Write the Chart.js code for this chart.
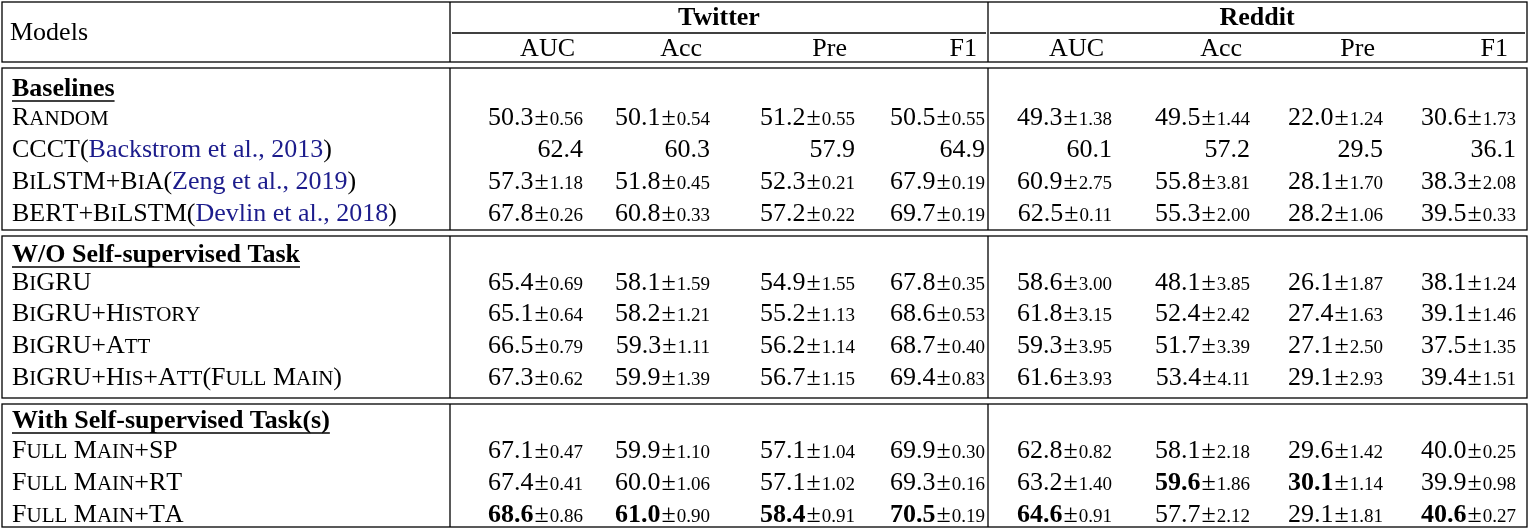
<!DOCTYPE html>
<html><head><meta charset="utf-8">
<script src="https://cdn.jsdelivr.net/npm/chart.js@4/dist/chart.umd.min.js"></script>
<style>html,body{margin:0;padding:0;background:#fff}canvas{display:block}</style>
</head><body>
<canvas id="c" width="1530" height="530"></canvas>
<script>
const groups = ["Twitter", "Reddit"];
const metrics = ["AUC", "Acc", "Pre", "F1"];
const sections = ["Baselines", "W/O Self-supervised Task", "With Self-supervised Task(s)"];
const modelNames = ["Random","CCCT","BiLSTM+BiA","BERT+BiLSTM","BiGRU","BiGRU+History","BiGRU+Att","BiGRU+His+Att(Full Main)","Full Main+SP","Full Main+RT","Full Main+TA"];
const modelCites = ["","Backstrom et al., 2013","Zeng et al., 2019","Devlin et al., 2018","","","","","","",""];
const means = [
 [50.3,50.1,51.2,50.5,49.3,49.5,22.0,30.6],
 [62.4,60.3,57.9,64.9,60.1,57.2,29.5,36.1],
 [57.3,51.8,52.3,67.9,60.9,55.8,28.1,38.3],
 [67.8,60.8,57.2,69.7,62.5,55.3,28.2,39.5],
 [65.4,58.1,54.9,67.8,58.6,48.1,26.1,38.1],
 [65.1,58.2,55.2,68.6,61.8,52.4,27.4,39.1],
 [66.5,59.3,56.2,68.7,59.3,51.7,27.1,37.5],
 [67.3,59.9,56.7,69.4,61.6,53.4,29.1,39.4],
 [67.1,59.9,57.1,69.9,62.8,58.1,29.6,40.0],
 [67.4,60.0,57.1,69.3,63.2,59.6,30.1,39.9],
 [68.6,61.0,58.4,70.5,64.6,57.7,29.1,40.6]];
const stds = [
 [0.56,0.54,0.55,0.55,1.38,1.44,1.24,1.73],
 null,
 [1.18,0.45,0.21,0.19,2.75,3.81,1.70,2.08],
 [0.26,0.33,0.22,0.19,0.11,2.00,1.06,0.33],
 [0.69,1.59,1.55,0.35,3.00,3.85,1.87,1.24],
 [0.64,1.21,1.13,0.53,3.15,2.42,1.63,1.46],
 [0.79,1.11,1.14,0.40,3.95,3.39,2.50,1.35],
 [0.62,1.39,1.15,0.83,3.93,4.11,2.93,1.51],
 [0.47,1.10,1.04,0.30,0.82,2.18,1.42,0.25],
 [0.41,1.06,1.02,0.16,1.40,1.86,1.14,0.98],
 [0.86,0.90,0.91,0.19,0.91,2.12,1.81,0.27]];
const bold = [[10,0],[10,1],[10,2],[10,3],[10,4],[9,5],[9,6],[10,7]];

const colRight = [583,710,855,985,1112,1250,1383,1516];
const rowY = [117,149,181,213,282,313,345,377,450,482,514];
const sectionY = [88,254,420];
const boxes = [[2,62],[68,230],[236,398],[404,527]];
const SERIF = "'Liberation Serif','DejaVu Serif',serif";
const FS = 26, FSS = 21, FSTD = 19;

const tablePlugin = {
 id:'table',
 afterDraw(chart){
  const ctx = chart.ctx, X = v=>chart.scales.x.getPixelForValue(v), Y = v=>chart.scales.y.getPixelForValue(v);
  ctx.save();
  ctx.strokeStyle='#000'; ctx.lineWidth=1.3; ctx.fillStyle='#000';
  boxes.forEach(b=>{ctx.strokeRect(X(2),Y(b[0]),X(1527)-X(2),Y(b[1])-Y(b[0]));
    [450,988].forEach(x=>{ctx.beginPath();ctx.moveTo(X(x),Y(b[0]));ctx.lineTo(X(x),Y(b[1]));ctx.stroke();});});
  [[452,986],[990,1525]].forEach(s=>{ctx.beginPath();ctx.moveTo(X(s[0]),Y(33));ctx.lineTo(X(s[1]),Y(33));ctx.stroke();});
  ctx.textBaseline='alphabetic';
  ctx.font=FS+"px "+SERIF; ctx.textAlign='left'; ctx.fillText("Models",X(10),Y(40));
  ctx.font="bold "+FS+"px "+SERIF; ctx.textAlign='center';
  ctx.fillText(groups[0],X(719),Y(25)); ctx.fillText(groups[1],X(1257),Y(25));
  ctx.font=FS+"px "+SERIF; ctx.textAlign='right';
  colRight.forEach((r,i)=>ctx.fillText(metrics[i%4],X(r-8),Y(56)));
  ctx.textAlign='left';
  sections.forEach((s,i)=>{ctx.font="bold "+FS+"px "+SERIF;ctx.fillText(s,X(12),Y(sectionY[i]+8));
    const w=ctx.measureText(s).width;ctx.beginPath();ctx.moveTo(X(12),Y(sectionY[i]+13));ctx.lineTo(X(12)+w,Y(sectionY[i]+13));ctx.stroke();});
  modelNames.forEach((n,i)=>{
   let x=X(12); const y=Y(rowY[i]+8);
   for(const ch of n){
     const small = ch>='a'&&ch<='z';
     ctx.font=(small?FSS:FS)+"px "+SERIF; const c=small?ch.toUpperCase():ch;
     ctx.fillStyle='#000'; ctx.fillText(c,x,y); x+=ctx.measureText(c).width;
   }
   if(modelCites[i]){ctx.font=FS+"px "+SERIF;
     ctx.fillText("(",x,y);x+=ctx.measureText("(").width;
     ctx.fillStyle='#1c1c8c';ctx.fillText(modelCites[i],x,y);x+=ctx.measureText(modelCites[i]).width;
     ctx.fillStyle='#000';ctx.fillText(")",x,y);}
  });
  ctx.textAlign='right';
  means.forEach((row,i)=>row.forEach((v,j)=>{
    const y=Y(rowY[i]+8); let x=X(colRight[j]);
    if(stds[i]){
      ctx.font=FSTD+"px "+SERIF;const s=stds[i][j].toFixed(2);ctx.fillText(s,x,y);x-=ctx.measureText(s).width+1;
      ctx.font=FS+"px "+SERIF;ctx.fillText("±",x,y);x-=ctx.measureText("±").width+1;}
    const isB=bold.some(b=>b[0]===i&&b[1]===j);
    ctx.font=(isB?"bold ":"")+FS+"px "+SERIF; ctx.fillText(v.toFixed(1),x,y);
  }));
  ctx.restore();
 }
};
new Chart(document.getElementById('c'),{
 type:'scatter',
 data:{datasets:[{data:[],pointRadius:0}]},
 options:{responsive:false,animation:false,layout:{padding:0},
  plugins:{legend:{display:false},tooltip:{enabled:false}},
  scales:{x:{type:'linear',min:0,max:1530,display:false},y:{type:'linear',min:0,max:530,reverse:true,display:false}}},
 plugins:[tablePlugin]
});
</script>
</body></html>
